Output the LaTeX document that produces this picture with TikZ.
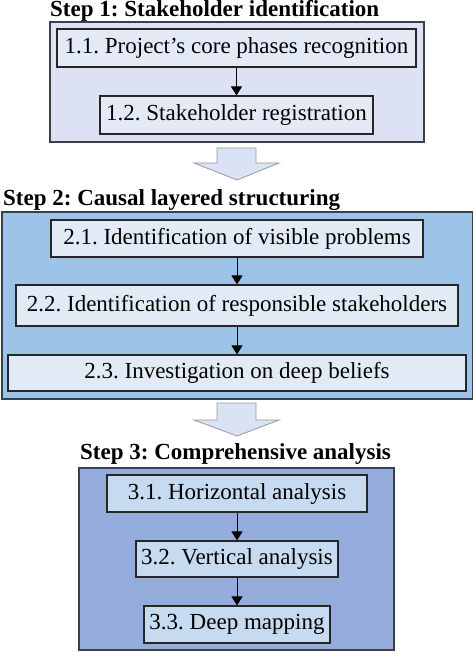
\documentclass[tikz,border=0pt]{standalone}
\usepackage{fontspec}
\setmainfont{Liberation Serif}
\usetikzlibrary{arrows.meta}
\frenchspacing
\definecolor{oneout}{HTML}{DCE2F4}
\definecolor{onein}{HTML}{E3EAF6}
\definecolor{twoout}{HTML}{9DC3E8}
\definecolor{twoin}{HTML}{E2EBF5}
\definecolor{threeout}{HTML}{95ADDD}
\definecolor{threein}{HTML}{C6DAF0}
\definecolor{bigarrow}{HTML}{D9E3F5}
\definecolor{edge}{HTML}{3A3F48}
\tikzset{
  outerbox/.style={draw=edge, line width=1.3pt, inner sep=0pt},
  innerbox/.style={draw=black!85, line width=1.1pt, inner sep=0pt, font=\fontsize{23}{26}\selectfont},
  titletext/.style={anchor=base west, inner sep=0pt, font=\fontsize{23}{26}\selectfont\bfseries},
  flow/.style={-{Triangle[length=9pt,width=11pt]}, line width=1pt, black},
  fatarrow/.style={draw=gray!80, fill=bigarrow, line width=0.8pt, line join=miter}
}
\begin{document}
\begin{tikzpicture}[x=1pt,y=-1pt]
\useasboundingbox (0,0) rectangle (474,652);
% Step 1
\node[titletext] (t1) at (50,17) {Step 1: Stakeholder identification};
\path[outerbox, fill=oneout] (50,22) rectangle (424,142);
\node[innerbox, fill=onein, minimum width=359pt, minimum height=38pt] (b11) at (236.5,48) {1.1. Project’s core phases recognition};
\node[innerbox, fill=onein, minimum width=273pt, minimum height=38pt] (b12) at (236.5,115) {1.2. Stakeholder registration};
\draw[flow] (b11) -- (b12);
% big arrow 1
\draw[fatarrow] (217,148) -- (256,148) -- (256,163) -- (279,163) -- (237,180) -- (194,163) -- (217,163) -- cycle;
% Step 2
\node[titletext] (t2) at (3,205) {Step 2: Causal layered structuring};
\path[outerbox, fill=twoout] (2,212) rectangle (472.5,399);
\node[innerbox, fill=twoin, minimum width=372pt, minimum height=37pt] (b21) at (237,238.5) {2.1. Identification of visible problems};
\node[innerbox, fill=twoin, minimum width=442pt, minimum height=41pt] (b22) at (237,305.5) {2.2. Identification of responsible stakeholders};
\node[innerbox, fill=twoin, minimum width=458pt, minimum height=36pt] (b23) at (237,373) {2.3. Investigation on deep beliefs};
\draw[flow] (b21) -- (b22);
\draw[flow] (b22) -- (b23);
% big arrow 2
\draw[fatarrow] (217,403) -- (256,403) -- (256,420) -- (279,420) -- (237,436) -- (194,420) -- (217,420) -- cycle;
% Step 3
\node[titletext] (t3) at (80,459) {Step 3: Comprehensive analysis};
\path[outerbox, fill=threeout] (79,468) rectangle (394,650);
\node[innerbox, fill=threein, minimum width=260pt, minimum height=37pt] (b31) at (237,493.5) {3.1. Horizontal analysis};
\node[innerbox, fill=threein, minimum width=202pt, minimum height=36pt] (b32) at (237,559) {3.2. Vertical analysis};
\node[innerbox, fill=threein, minimum width=186pt, minimum height=37pt] (b33) at (237,624.5) {3.3. Deep mapping};
\draw[flow] (b31) -- (b32);
\draw[flow] (b32) -- (b33);
\end{tikzpicture}
\end{document}
